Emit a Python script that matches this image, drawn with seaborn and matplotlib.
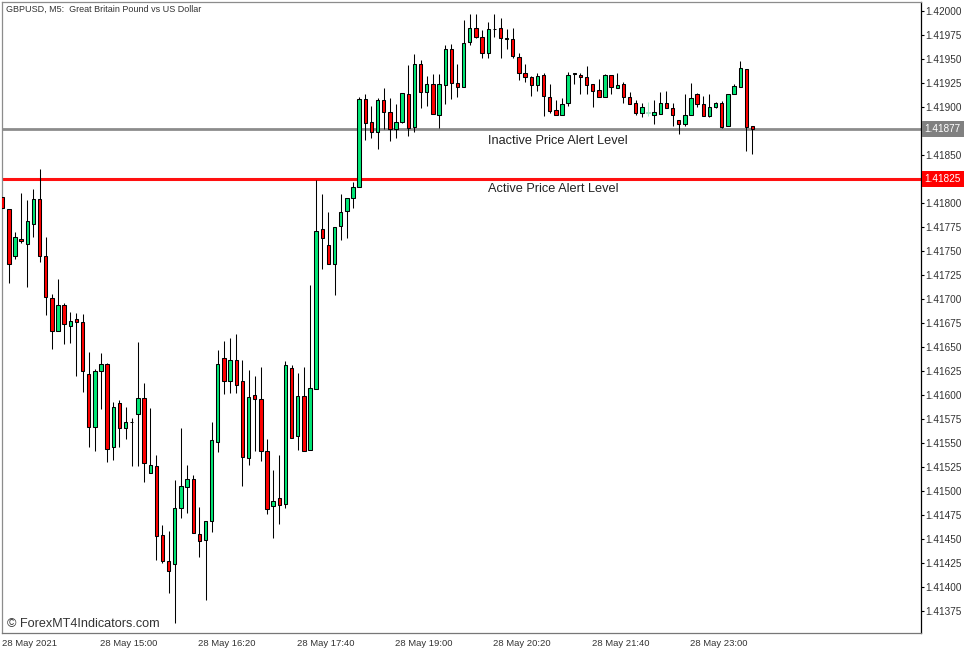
import pandas as pd
import seaborn as sns
import matplotlib.pyplot as plt

# prices, one entry per M5 candle
opens = [1.41806, 1.41794, 1.41745, 1.41763, 1.41757, 1.41778, 1.41804, 1.41745, 1.41701, 1.41667,
         1.41694, 1.41672, 1.41679, 1.41676, 1.41622, 1.41567, 1.41625, 1.41632, 1.41546, 1.41592,
         1.41566, 1.41572, 1.41580, 1.41597, 1.41519, 1.41526, 1.41454, 1.41427, 1.41424, 1.41482,
         1.41504, 1.41512, 1.41455, 1.41449, 1.41469, 1.41551, 1.41639, 1.41615, 1.41636, 1.41615,
         1.41534, 1.41600, 1.41596, 1.41542, 1.41484, 1.41493, 1.41486, 1.41628, 1.41557, 1.41599,
         1.41543, 1.41606, 1.41773, 1.41756, 1.41737, 1.41776, 1.41792, 1.41805, 1.41817, 1.41908,
         1.41884, 1.41874, 1.41907, 1.41895, 1.41877, 1.41884, 1.41914, 1.41879, 1.41945, 1.41916,
         1.41924, 1.41892, 1.41923, 1.41961, 1.41925, 1.41921, 1.41968, 1.41982, 1.41973, 1.41956,
         1.41981, 1.41982, 1.41971, 1.41971, 1.41952, 1.41936, 1.41931, 1.41923, 1.41933, 1.41911,
         1.41897, 1.41892, 1.41904, 1.41934, 1.41933, 1.41931, 1.41924, 1.41918, 1.41911, 1.41933,
         1.41920, 1.41924, 1.41910, 1.41904, 1.41894, 1.41894, 1.41892, 1.41893, 1.41904, 1.41899,
         1.41887, 1.41882, 1.41892, 1.41914, 1.41903, 1.41891, 1.41900, 1.41904, 1.41880, 1.41914,
         1.41921, 1.41940, 1.41880]
highs = [1.41806, 1.41794, 1.41770, 1.41810, 1.41803, 1.41815, 1.41835, 1.41765, 1.41705, 1.41721,
         1.41696, 1.41686, 1.41685, 1.41684, 1.41645, 1.41627, 1.41644, 1.41633, 1.41593, 1.41595,
         1.41587, 1.41576, 1.41655, 1.41612, 1.41586, 1.41537, 1.41465, 1.41458, 1.41511, 1.41566,
         1.41527, 1.41517, 1.41483, 1.41469, 1.41572, 1.41647, 1.41656, 1.41659, 1.41664, 1.41636,
         1.41626, 1.41620, 1.41629, 1.41554, 1.41522, 1.41537, 1.41635, 1.41631, 1.41623, 1.41629,
         1.41715, 1.41824, 1.41809, 1.41791, 1.41775, 1.41809, 1.41805, 1.41822, 1.41911, 1.41914,
         1.41901, 1.41909, 1.41920, 1.41909, 1.41903, 1.41915, 1.41944, 1.41955, 1.41949, 1.41932,
         1.41934, 1.41934, 1.41965, 1.41966, 1.41945, 1.41991, 1.41997, 1.41997, 1.41980, 1.41989,
         1.41997, 1.41993, 1.41981, 1.41982, 1.41956, 1.41945, 1.41932, 1.41935, 1.41935, 1.41924,
         1.41907, 1.41909, 1.41937, 1.41935, 1.41935, 1.41943, 1.41924, 1.41929, 1.41934, 1.41933,
         1.41935, 1.41926, 1.41916, 1.41907, 1.41904, 1.41905, 1.41907, 1.41916, 1.41917, 1.41904,
         1.41887, 1.41914, 1.41925, 1.41915, 1.41912, 1.41914, 1.41905, 1.41906, 1.41914, 1.41924,
         1.41948, 1.41940, 1.41880]
lows = [1.41795, 1.41717, 1.41742, 1.41758, 1.41713, 1.41765, 1.41739, 1.41683, 1.41648, 1.41667,
        1.41653, 1.41654, 1.41620, 1.41603, 1.41546, 1.41542, 1.41585, 1.41530, 1.41532, 1.41546,
        1.41554, 1.41526, 1.41526, 1.41509, 1.41519, 1.41428, 1.41425, 1.41394, 1.41362, 1.41472,
        1.41477, 1.41456, 1.41431, 1.41386, 1.41457, 1.41541, 1.41601, 1.41602, 1.41602, 1.41505,
        1.41527, 1.41542, 1.41531, 1.41476, 1.41451, 1.41466, 1.41482, 1.41555, 1.41543, 1.41542,
        1.41543, 1.41606, 1.41731, 1.41736, 1.41704, 1.41761, 1.41764, 1.41795, 1.41817, 1.41866,
        1.41868, 1.41856, 1.41877, 1.41865, 1.41868, 1.41883, 1.41870, 1.41874, 1.41899, 1.41901,
        1.41893, 1.41878, 1.41903, 1.41908, 1.41910, 1.41921, 1.41965, 1.41972, 1.41951, 1.41951,
        1.41973, 1.41951, 1.41961, 1.41951, 1.41928, 1.41926, 1.41912, 1.41917, 1.41891, 1.41894,
        1.41892, 1.41892, 1.41901, 1.41924, 1.41914, 1.41914, 1.41900, 1.41911, 1.41911, 1.41914,
        1.41920, 1.41904, 1.41903, 1.41892, 1.41890, 1.41891, 1.41882, 1.41893, 1.41899, 1.41880,
        1.41872, 1.41880, 1.41892, 1.41900, 1.41891, 1.41890, 1.41899, 1.41878, 1.41880, 1.41914,
        1.41921, 1.41854, 1.41851]
closes = [1.41795, 1.41737, 1.41765, 1.41760, 1.41781, 1.41804, 1.41745, 1.41702, 1.41667, 1.41694,
          1.41674, 1.41677, 1.41676, 1.41625, 1.41567, 1.41625, 1.41632, 1.41544, 1.41587, 1.41566,
          1.41572, 1.41572, 1.41597, 1.41529, 1.41527, 1.41453, 1.41427, 1.41417, 1.41482, 1.41505,
          1.41512, 1.41456, 1.41448, 1.41469, 1.41553, 1.41632, 1.41615, 1.41636, 1.41610, 1.41535,
          1.41598, 1.41596, 1.41542, 1.41481, 1.41490, 1.41485, 1.41631, 1.41555, 1.41599, 1.41542,
          1.41607, 1.41771, 1.41764, 1.41737, 1.41775, 1.41791, 1.41805, 1.41817, 1.41908, 1.41883,
          1.41874, 1.41907, 1.41895, 1.41877, 1.41884, 1.41915, 1.41878, 1.41945, 1.41916, 1.41924,
          1.41893, 1.41924, 1.41961, 1.41925, 1.41921, 1.41967, 1.41982, 1.41973, 1.41956, 1.41981,
          1.41981, 1.41972, 1.41972, 1.41953, 1.41935, 1.41931, 1.41923, 1.41932, 1.41912, 1.41896,
          1.41892, 1.41903, 1.41933, 1.41935, 1.41931, 1.41923, 1.41917, 1.41911, 1.41933, 1.41921,
          1.41923, 1.41910, 1.41903, 1.41894, 1.41900, 1.41895, 1.41895, 1.41904, 1.41899, 1.41892,
          1.41882, 1.41892, 1.41909, 1.41903, 1.41891, 1.41900, 1.41904, 1.41879, 1.41914, 1.41922,
          1.41941, 1.41879, 1.41877]

faint_bars = [105]

price_ticks = [1.42000, 1.41975, 1.41950, 1.41925, 1.41900, 1.41850, 1.41800, 1.41775, 1.41750,
               1.41725, 1.41700, 1.41675, 1.41650, 1.41625, 1.41600, 1.41575, 1.41550, 1.41525,
               1.41500, 1.41475, 1.41450, 1.41425, 1.41400, 1.41375]
time_ticks = [0, 16, 32, 48, 64, 80, 96, 112]
time_labels = ['28 May 2021', '28 May 15:00', '28 May 16:20', '28 May 17:40',
               '28 May 19:00', '28 May 20:20', '28 May 21:40', '28 May 23:00']

inactive_level = 1.41877
active_level = 1.41825

GREEN = '#00E676'
RED = '#FF0000'

df = pd.DataFrame({'open': opens, 'high': highs, 'low': lows, 'close': closes})
df['bar'] = df.index
df['bottom'] = df[['open', 'close']].min(axis=1)
df['height'] = (df['close'] - df['open']).abs()
df['up'] = df['close'] >= df['open']
faint = df[df['bar'].isin(faint_bars)]
solid = df[~df['bar'].isin(faint_bars)]


def draw_wicks(ax, frame, color):
    wicks = frame.melt(id_vars='bar', value_vars=['high', 'low'], value_name='price')
    sns.lineplot(data=wicks, x='bar', y='price', units='bar', estimator=None, color=color,
                 linewidth=0.75, solid_capstyle='butt', zorder=2, legend=False, ax=ax)


def draw_bodies(ax, frame, color, edge='black'):
    sns.barplot(data=frame, x='bar', y='height', bottom=frame['bottom'].values, native_scale=True,
                orient='x', color=color, saturation=1, width=0.55, edgecolor=edge, linewidth=0.75,
                errorbar=None, zorder=3, legend=False, ax=ax)


sns.set_theme(style='white')
plt.rcParams['font.family'] = ['Liberation Sans', 'DejaVu Sans']

fig = plt.figure(figsize=(9.77, 6.52), dpi=100, facecolor='white')
ax = fig.add_axes([1.5 / 977, 1 - 633 / 652, 920 / 977, 631.5 / 652])

ax.axhline(inactive_level, color='#8C8C8C', linewidth=2.0, zorder=1)
ax.axhline(active_level, color='#FF1010', linewidth=2.2, zorder=1)

draw_wicks(ax, solid, 'black')
draw_wicks(ax, faint, '#A5E8C5')
draw_bodies(ax, solid[solid['up']], GREEN)
draw_bodies(ax, solid[~solid['up']], RED)
draw_bodies(ax, faint, '#A5E8C5', edge='#A5E8C5')

ax.set_xlim(-0.195, 149.5)
ax.set_ylim(1.41352, 1.42010)
ax.set_xlabel('')
ax.set_ylabel('')

ax.yaxis.tick_right()
ax.set_yticks(price_ticks)
ax.set_yticklabels([f'{p:.5f}' for p in price_ticks])
ax.set_xticks([t - 0.15 for t in time_ticks])
ax.set_xticklabels(time_labels, ha='left')
ax.tick_params(axis='y', length=2.4, width=0.8, color='black', pad=0.4, labelsize=7.2, labelcolor='#333333')
ax.tick_params(axis='x', length=2.4, width=0.8, color='#444444', pad=1.6, labelsize=6.8, labelcolor='#333333')

for side, col in [('left', '#8C8C8C'), ('top', '#8C8C8C'), ('right', 'black'), ('bottom', '#777777')]:
    ax.spines[side].set_visible(True)
    ax.spines[side].set_color(col)
    ax.spines[side].set_linewidth(0.9)

# price flags on the right hand scale
for level, col in [(inactive_level, '#808080'), (active_level, '#FF0000')]:
    ax.text(1.0035, level, f'{level:.5f}', transform=ax.get_yaxis_transform(), color='white',
            fontsize=7.2, va='center', ha='left', clip_on=False,
            bbox=dict(boxstyle='square,pad=0.28', facecolor=col, edgecolor='none'))

ax.text(79, 1.41865, 'Inactive Price Alert Level', fontsize=9.2, color='#222222', va='center', ha='left')
ax.text(79, 1.41815, 'Active Price Alert Level', fontsize=9.2, color='#222222', va='center', ha='left')

ax.text(6 / 977, 1 - 9 / 652, 'GBPUSD, M5:  Great Britain Pound vs US Dollar', transform=fig.transFigure,
        fontsize=6.5, color='#333333', va='center', ha='left')
ax.text(7 / 977, 1 - 624 / 652, '\u00a9 ForexMT4Indicators.com', transform=fig.transFigure,
        fontsize=9.1, color='#333333', va='center', ha='left')

fig.savefig('out.png', dpi=100)
